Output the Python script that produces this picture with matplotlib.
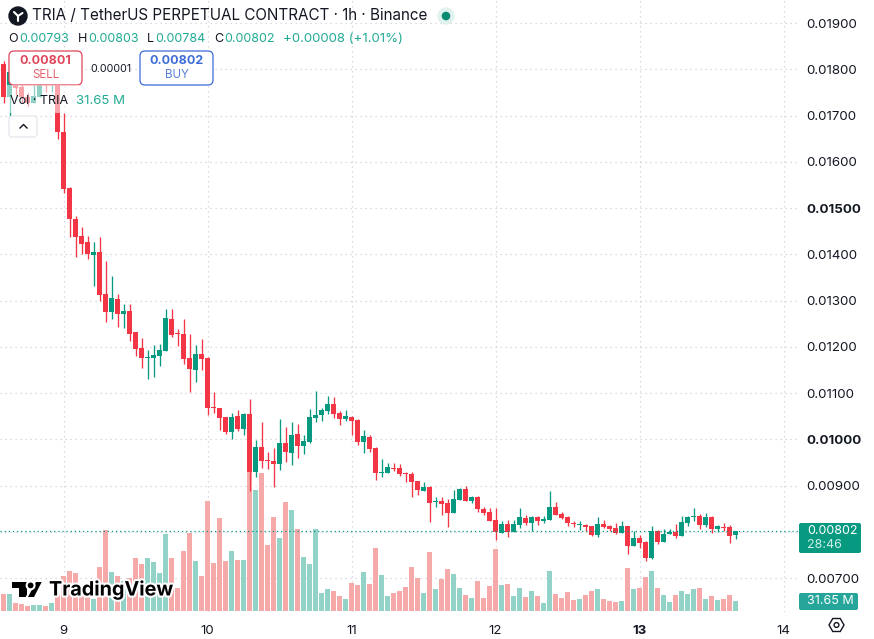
import matplotlib
matplotlib.use('Agg')
import matplotlib.pyplot as plt
import matplotlib.patheffects as pe
from matplotlib.patches import Circle, FancyBboxPatch, Polygon, Rectangle, RegularPolygon

plt.rcParams['font.family'] = ['Inter', 'DejaVu Sans']

# Prices in units of 0.00001, one candle per hour; hour 0 is the start of the 9th
first_hour = -10
opens = [1812, 1740, 1766, 1762, 1740, 1727, 1740, 1771, 1766, 1766,
         1665, 1544, 1477, 1440, 1427, 1399, 1405, 1315, 1276, 1304, 1271, 1278, 1232, 1198,
         1176, 1176, 1181, 1191, 1261, 1230, 1228, 1176, 1150, 1185, 1176, 1070, 1068, 1049,
         1016, 1051, 1023, 1055, 930, 984, 956, 954, 947, 992, 971, 1012, 986, 995,
         1047, 1053, 1062, 1077, 1057, 1044, 1049, 1042, 995, 1005, 982, 928, 928, 938,
         938, 928, 925, 910, 889, 897, 865, 867, 863, 841, 869, 893, 867, 876, 850,
         843, 826, 798, 817, 800, 815, 830, 819, 832, 824, 826, 854, 839, 832, 819,
         815, 815, 813, 794, 817, 813, 809, 798, 813, 770, 787, 778, 744, 802, 778,
         796, 800, 791, 819, 832, 835, 815, 832, 806, 811, 811, 793]
highs = [1818, 1795, 1782, 1771, 1750, 1766, 1782, 1782, 1782, 1782,
         1706, 1546, 1483, 1459, 1440, 1427, 1438, 1386, 1354, 1315, 1293, 1293, 1232, 1220,
         1194, 1204, 1207, 1282, 1282, 1239, 1261, 1228, 1204, 1217, 1178, 1103, 1068, 1049,
         1057, 1064, 1057, 1088, 999, 1038, 973, 982, 1044, 1027, 1038, 1034, 1010, 1066,
         1105, 1068, 1094, 1092, 1062, 1064, 1051, 1044, 1021, 1010, 984, 958, 949, 949,
         947, 930, 930, 910, 908, 899, 876, 876, 871, 891, 895, 899, 878, 878, 854,
         852, 852, 824, 826, 826, 852, 837, 835, 835, 835, 889, 865, 843, 835, 824,
         824, 817, 813, 832, 826, 815, 819, 824, 813, 802, 794, 781, 813, 804, 806,
         806, 817, 835, 835, 852, 839, 841, 835, 815, 819, 815, 803]
lows = [1727, 1697, 1745, 1727, 1720, 1727, 1740, 1751, 1751, 1650,
        1533, 1438, 1395, 1401, 1390, 1332, 1299, 1254, 1261, 1243, 1241, 1213, 1181, 1155,
        1131, 1135, 1159, 1191, 1222, 1202, 1163, 1103, 1124, 1150, 1053, 1057, 1021, 1012,
        1001, 1018, 1010, 889, 919, 938, 936, 897, 934, 951, 945, 960, 969, 992,
        1038, 1040, 1055, 1047, 1031, 1040, 1010, 988, 971, 973, 912, 919, 928, 932,
        921, 908, 876, 880, 889, 822, 854, 837, 811, 841, 869, 867, 863, 843, 837,
        824, 783, 798, 789, 800, 809, 815, 802, 815, 819, 826, 837, 828, 813, 811,
        804, 802, 791, 789, 809, 802, 796, 798, 752, 770, 765, 737, 742, 774, 778,
        796, 787, 791, 813, 824, 806, 811, 798, 800, 802, 776, 784]
closes = [1740, 1795, 1760, 1740, 1727, 1743, 1766, 1766, 1771, 1665,
          1542, 1477, 1438, 1423, 1401, 1405, 1312, 1276, 1306, 1271, 1278, 1228, 1196, 1176,
          1178, 1183, 1194, 1263, 1226, 1228, 1174, 1152, 1185, 1174, 1068, 1068, 1047, 1016,
          1049, 1023, 1055, 930, 984, 954, 954, 947, 992, 973, 1010, 986, 997, 1049,
          1053, 1064, 1077, 1055, 1044, 1051, 1040, 995, 1008, 979, 928, 930, 941, 936,
          925, 925, 908, 891, 897, 863, 867, 861, 841, 871, 893, 867, 876, 850, 841,
          824, 800, 817, 800, 817, 832, 819, 832, 824, 828, 854, 837, 830, 819, 817,
          817, 811, 794, 817, 811, 806, 798, 813, 770, 787, 776, 744, 802, 778, 796,
          800, 791, 822, 832, 835, 815, 832, 806, 813, 809, 791, 802]
# Volume in millions
volumes = [52.9, 52.9, 25.3, 21.2, 14.9, 18, 18, 14.9, 24.4, 50.6,
           110, 125.6, 119.3, 63, 57, 38, 138, 255, 122.5, 110, 95, 103.5, 167, 148,
           167, 154, 119, 243, 167, 72, 189, 246, 157, 110, 347, 151, 293, 157,
           189, 160, 160, 439, 383, 437, 209, 297.5, 231, 345, 320, 260, 171, 149,
           260, 57, 70, 63, 47.5, 38, 89, 82, 123, 85, 199, 114, 47.5, 57,
           63, 76, 139, 104, 57, 187, 70, 101, 133, 117, 73, 51, 41, 95, 41,
           79, 196, 82, 85, 47.5, 73, 44, 63, 47.5, 25, 127, 54, 41, 60, 35,
           38, 51, 63, 70, 38, 32, 28, 32, 136, 70, 73, 108, 127, 73, 51,
           28, 51, 63, 54, 70, 73, 38, 47.5, 35, 38, 51, 31.65]

day_labels = ['9', '10', '11', '12', '13', '14']
price_levels = [700, 800, 900, 1000, 1100, 1200, 1300, 1400, 1500, 1600, 1700, 1800, 1900]
bold_levels = [1000, 1500]
last_price = 802

GREEN = '#089981'
RED = '#f23645'
VOL_GREEN = '#92d2c7'
VOL_RED = '#f6a9a9'
GRID = '#cdd0d8'
INK = '#131722'
NUM_GREEN = '#22ab94'

hours = [first_hour + i for i in range(len(opens))]
up = [c >= o for o, c in zip(opens, closes)]
scale = 1e-5

fig = plt.figure(figsize=(8.74, 6.39), dpi=100)
rect = [0, 27 / 639, 798 / 874, 612 / 639]
x_range = (-63.5 / 6, 734.5 / 6)
price_range = (627 * scale, 1950.2 * scale)

# Three stacked panes: grid, then volume, then candles with the axis labels
grid_ax = fig.add_axes(rect, zorder=1)
vol_ax = fig.add_axes(rect, zorder=2)
ax = fig.add_axes(rect, zorder=3)
for a in (grid_ax, vol_ax, ax):
    a.set_xlim(*x_range)
    a.patch.set_visible(False)
    for spine in a.spines.values():
        spine.set_visible(False)
grid_ax.patch.set_visible(True)
grid_ax.patch.set_facecolor('white')

day_hours = [24 * i for i in range(len(day_labels))]
grid_ax.set_ylim(*price_range)
grid_ax.set_xticks(day_hours)
grid_ax.set_yticks([p * scale for p in price_levels])
grid_ax.tick_params(length=0, labelbottom=False, labelleft=False)
grid_ax.grid(True, color=GRID, linewidth=0.9, linestyle=(0, (1, 3)))

vol_ax.set_ylim(-1.3 * 3.165, 610.7 * 3.165)
vol_ax.set_xticks([])
vol_ax.set_yticks([])
vol_ax.bar(hours, volumes, width=5 / 6, linewidth=0,
           color=[VOL_GREEN if u else VOL_RED for u in up])

ax.set_ylim(*price_range)
colors = [GREEN if u else RED for u in up]
ax.vlines(hours, [v * scale for v in lows], [v * scale for v in highs],
          colors=colors, linewidth=0.95)
ax.bar(hours, [abs(c - o) * scale for o, c in zip(opens, closes)], width=5 / 6,
       bottom=[min(o, c) * scale for o, c in zip(opens, closes)], color=colors, linewidth=0)
ax.axhline(last_price * scale, color=GREEN, linewidth=0.9, linestyle=(0, (1, 2.3)))

ax.set_xticks(day_hours)
ax.set_xticklabels(day_labels, fontsize=9.5, color=INK)
ax.get_xticklabels()[4].set_fontweight('bold')
ax.yaxis.tick_right()
ax.set_yticks([p * scale for p in price_levels])
# 0.00800 is covered by the last price tag, so it stays unlabelled
ax.set_yticklabels(['' if p == 800 else f'{p * scale:.5f}' for p in price_levels], fontsize=9.6, color=INK)
for tick_label, level in zip(ax.get_yticklabels(), price_levels):
    if level in bold_levels:
        tick_label.set_fontweight('bold')
ax.tick_params(length=0)
ax.tick_params(axis='x', pad=9)
ax.tick_params(axis='y', pad=6)

# Overlay in pixel coordinates for the header, buttons, tags and logo
ui = fig.add_axes([0, 0, 1, 1], zorder=4)
ui.set_xlim(0, 874)
ui.set_ylim(639, 0)
ui.axis('off')


def label(x, y, s, size=12.5, color=INK, ha='left', **kw):
    return ui.text(x, y, s, fontsize=size * 0.72, color=color, ha=ha, va='center', **kw)


def box(x0, y0, x1, y1, edge, face='white', lw=0.9, radius=5, **kw):
    ui.add_patch(FancyBboxPatch((x0 + radius, y0 + radius), x1 - x0 - 2 * radius, y1 - y0 - 2 * radius,
                                boxstyle=f'round,pad={radius}', edgecolor=edge, facecolor=face,
                                linewidth=lw, **kw))


# Title row
ui.add_patch(Circle((18, 16), 9, color='#131722'))
for dx, dy in [(-4, -4), (4.5, -3), (0, 5)]:
    ui.plot([18, 18 + dx], [16, 16 + dy], color='white', linewidth=1.5, solid_capstyle='round')
label(31.5, 16, 'TRIA / TetherUS PERPETUAL CONTRACT · 1h · Binance', size=15.2)
ui.add_patch(Circle((446, 16), 8, color='#e2f3ef'))
ui.add_patch(Circle((446, 16), 3.6, color='#0a8a72'))

# OHLC row
for x, s, c in [(8, 'O', INK), (19, '0.00793', NUM_GREEN), (78, 'H', INK), (88, '0.00803', NUM_GREEN),
                (147, 'L', INK), (155, '0.00784', NUM_GREEN), (214, 'C', INK), (224, '0.00802', NUM_GREEN)]:
    label(x, 39, s, size=12.5, color=c)
label(283, 39, '+0.00008 (+1.01%)', size=13.2, color=NUM_GREEN)

# Sell and buy buttons
box(9, 51, 82, 85, '#e0455a')
label(45.5, 61, '0.00801', size=12.5, color='#e0455a', ha='center', fontweight='bold')
label(45.5, 75, 'SELL', size=11.6, color='#e8606f', ha='center')
label(90, 68.5, '0.00001', size=10.6, ha='left')
box(140, 51, 213, 85, '#3d6bd9')
label(176.5, 61, '0.00802', size=12.5, color='#3d6bd9', ha='center', fontweight='bold')
label(176.5, 75, 'BUY', size=11.6, color='#5a80dd', ha='center')

# Volume legend sits on a translucent strip
ui.add_patch(Rectangle((7, 85), 120, 28, facecolor='white', alpha=0.55, linewidth=0))
label(10, 101, 'Vol · TRIA', size=12.5)
label(76, 101, '31.65 M', size=13.2, color=NUM_GREEN)
box(9, 116, 37, 137, '#e0e3eb', lw=0.8, radius=3)
ui.plot([20, 23.5, 27], [128, 124.5, 128], color=INK, linewidth=1)

# Last price and volume tags on the scale
box(799, 523, 861, 553, GREEN, face=GREEN, lw=0, radius=2)
label(807, 531.5, '0.00802', size=12.5, color='white')
label(807, 545, '28:46', size=12.5, color='#cdeee7')
box(799, 593, 858, 610, '#26a69a', face='#26a69a', lw=0, radius=2)
label(807, 601.5, '31.65 M', size=12.5, color='white')

# Settings glyph
ui.add_patch(RegularPolygon((836.5, 625), 6, radius=7.5, orientation=3.14159 / 2,
                            facecolor='white', edgecolor=INK, linewidth=1))
ui.add_patch(Circle((836.5, 625), 2.4, facecolor='white', edgecolor=INK, linewidth=1))

# TradingView mark
halo = [pe.withStroke(linewidth=3, foreground='white')]
for pts in ([(12, 582), (26.7, 582), (26.7, 597), (18.5, 597), (18.5, 588), (12, 588)],
            [(36, 582), (41.7, 582), (34, 597), (28, 597)]):
    ui.add_patch(Polygon(pts, closed=True, facecolor='black', edgecolor='none', path_effects=halo))
ui.add_patch(Circle((30.6, 585.4), 2.9, facecolor='black', edgecolor='none', path_effects=halo))
label(49, 590, 'TradingView', size=19.8, color='black', fontweight='bold', path_effects=halo)

fig.savefig('out.png', dpi=100)
